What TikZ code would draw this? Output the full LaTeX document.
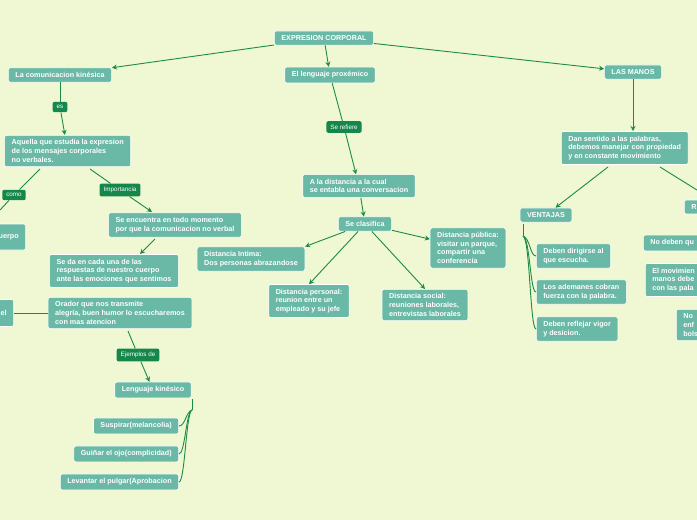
\documentclass[tikz,border=0pt]{standalone}
\usepackage{fontspec}
\setmainfont{Liberation Sans}
\usetikzlibrary{arrows.meta}
\definecolor{bg}{HTML}{EFF8D2}
\definecolor{bx}{HTML}{6AB8A6}
\definecolor{lb}{HTML}{15874A}
\definecolor{ln}{HTML}{1B8B45}
\tikzset{
 bn/.style={fill=bx,draw=white,line width=0.6pt,rounded corners=2pt,text=white,font=\fontsize{7.2}{8.6}\selectfont\bfseries,align=left,inner xsep=7pt,inner ysep=4.5pt},
 lab/.style={fill=lb,rounded corners=2pt,text=white,font=\fontsize{6.3}{7.5}\selectfont,inner xsep=4pt,inner ysep=3.5pt},
 ar/.style={draw=ln,line width=0.9pt,-{Stealth[length=5pt,width=5pt]}},
 li/.style={draw=ln,line width=0.9pt},
}
\begin{document}
\begin{tikzpicture}[x=1pt,y=-1pt]
\useasboundingbox (0,0) rectangle (697,520);
\fill[bg] (0,0) rectangle (697,520);
\clip (0,0) rectangle (697,520);
\node[bn] (ec) at (324,38) {EXPRESION CORPORAL};
\node[bn] (ck) at (60,75) {La comunicacion kinésica};
\node[bn] (lp) at (330,75) {El lenguaje proxémico};
\node[bn] (lm) at (633,72) {LAS MANOS};
\node[lab] (es) at (60,107) {es};
\node[bn,anchor=east] (aq) at (131,151) {Aquella que estudia la expresion\\de los mensajes corporales\\no verbales.};
\node[lab] (como) at (14,195) {como};
\node[bn,anchor=east,minimum height=26pt] (cu) at (26,237) {cuerpo};
\node[lab] (imp) at (120,190) {Importancia};
\node[bn] (se) at (175,225) {Se encuentra en todo momento\\por que la comunicacion no verbal};
\node[bn] (sd) at (114,271) {Se da en cada una de las\\respuestas de nuestro cuerpo\\ante las emociones que sentimos};
\node[bn] (or) at (120,313) {Orador que nos transmite\\alegría, buen humor lo escucharemos\\con mas atencion};
\node[bn,anchor=east,minimum height=27pt] (el) at (14,313) {el};
\node[lab] (ej) at (138,355) {Ejemplos de};
\node[bn] (lk) at (153,390) {Lenguaje kinésico};
\node[bn,anchor=east] (s1) at (179,426) {Suspirar(melancolia)};
\node[bn,anchor=east] (s2) at (179,454) {Guiñar el ojo(complicidad)};
\node[bn,anchor=east] (s3) at (179,482) {Levantar el pulgar(Aprobacion};
\node[lab] (sr) at (344,127) {Se refiere};
\node[bn] (ad) at (359,186) {A la distancia a la cual\\se entabla una conversacion};
\node[bn] (sc) at (365,224) {Se clasifica};
\node[bn] (di) at (251,259) {Distancia Intima:\\Dos personas abrazandose};
\node[bn] (dp) at (309,301) {Distancia personal:\\reunion entre un\\empleado y su jefe};
\node[bn] (ds) at (425,305) {Distancia social:\\reuniones laborales,\\entrevistas laborales};
\node[bn] (du) at (468,248) {Distancia pública:\\visitar un parque,\\compartir una\\conferencia};
\node[bn,anchor=west] (dn) at (561,148) {Dan sentido a las palabras,\\debemos manejar con propiedad\\y en constante movimiento};
\node[bn] (ve) at (546,215) {VENTAJAS};
\node[bn,anchor=west] (v1) at (536,256) {Deben dirigirse al\\que escucha.};
\node[bn,anchor=west] (v2) at (536,292) {Los ademanes cobran\\fuerza con la palabra.};
\node[bn,anchor=west] (v3) at (536,329) {Deben reflejar vigor\\y desicion.};
\node[bn,anchor=west] (r) at (684,207) {R};
\node[bn,anchor=west] (n1) at (643,243) {No deben qu};
\node[bn,anchor=west] (n2) at (645,280) {El movimien\\manos debe\\con las pala};
\node[bn,anchor=west] (n3) at (676,325) {No\\enf\\bols};
\draw[ar] (ec) -- (ck);
\draw[ar] (ec) -- (lp);
\draw[ar] (ec) -- (lm);
\draw[li] (ck) -- (es); \draw[ar] (es) -- (aq);
\draw[li] (40,169) -- (como); \draw[li] (como) -- (0,210);
\draw[li] (90,169) -- (imp); \draw[ar] (imp) -- (152,212);
\draw[ar] (155,239) -- (140,254);
\draw[li] (el) -- (or);
\draw[li] (128,331) -- (ej); \draw[ar] (ej) -- (lk);
\draw[li] (192,399) -- (192,410);
\foreach \t in {s1,s2,s3} \draw[li] (192,410) .. controls (186,412) and ([xshift=6pt]\t.east) .. (\t.east);
\draw[li] (lp) -- (sr); \draw[ar] (sr) -- (ad);
\draw[ar] (ad) -- (sc);
\draw[ar] (sc) -- (di.north east);
\draw[ar] (sc) -- (dp.north);
\draw[ar] (sc) -- (ds.north);
\draw[ar] (sc) -- (du);
\draw[ar] (lm) -- (633,131);
\draw[ar] (608,167) -- (ve);
\draw[li] (660,167) -- (697,190);
\draw[li] (523,224) -- (523,236);
\foreach \t in {v1,v2,v3} \draw[li] (523,236) .. controls (530,238) and ([xshift=-6pt]\t.west) .. (\t.west);
\end{tikzpicture}
\end{document}
